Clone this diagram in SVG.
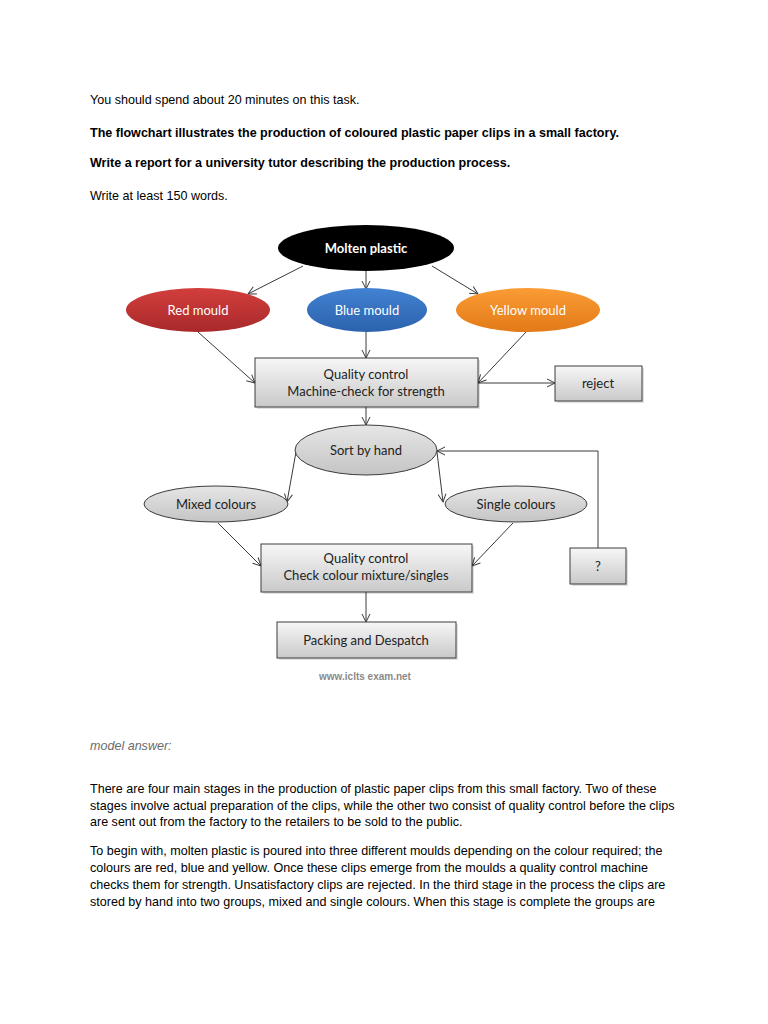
<svg xmlns="http://www.w3.org/2000/svg" width="768" height="1024" viewBox="0 0 768 1024">
<defs>
<linearGradient id="gBox" x1="0" y1="0" x2="0" y2="1"><stop offset="0" stop-color="#f7f7f7"/><stop offset="1" stop-color="#c9c9c9"/></linearGradient>
<linearGradient id="gEll" x1="0" y1="0" x2="0" y2="1"><stop offset="0" stop-color="#e6e6e6"/><stop offset="1" stop-color="#c4c4c4"/></linearGradient>
<linearGradient id="gRed" x1="0" y1="0" x2="0" y2="1"><stop offset="0" stop-color="#d23f3c"/><stop offset="1" stop-color="#a9282b"/></linearGradient>
<linearGradient id="gBlue" x1="0" y1="0" x2="0" y2="1"><stop offset="0" stop-color="#4282d2"/><stop offset="1" stop-color="#2c62ad"/></linearGradient>
<linearGradient id="gYel" x1="0" y1="0" x2="0" y2="1"><stop offset="0" stop-color="#fb9c35"/><stop offset="1" stop-color="#e27a17"/></linearGradient>
<marker id="arr" markerWidth="10" markerHeight="10" refX="9" refY="5" orient="auto" markerUnits="userSpaceOnUse"><path d="M1,1 L9,5 L1,9" fill="none" stroke="#3a3a3a" stroke-width="1"/></marker>
</defs>
<style>
.body{font-family:"Liberation Sans",Arial,sans-serif;font-size:12.55px;fill:#000}
.bold{font-weight:bold}
.ital{font-style:italic;fill:#6b6b6b}
.lbl{font-family:Lato,"Open Sans",sans-serif;font-size:13px;text-anchor:middle;fill:#222}
.wl{fill:#fff}
.box{fill:url(#gBox);stroke:#3c3c3c;stroke-width:1}
.ell{fill:url(#gEll);stroke:#3c3c3c;stroke-width:1}
.sh{fill:#000;opacity:0.12}
.con{fill:none;stroke:#3a3a3a;stroke-width:1;marker-end:url(#arr)}
</style>
<rect width="768" height="1024" fill="#fff"/>

<g id="header">
<text class="body" x="90" y="104">You should spend about 20 minutes on this task.</text>
<text class="body bold" x="90" y="137">The flowchart illustrates the production of coloured plastic paper clips in a small factory.</text>
<text class="body bold" x="90" y="167">Write a report for a university tutor describing the production process.</text>
<text class="body" x="90" y="200">Write at least 150 words.</text>
</g>

<g id="connectors">
<line class="con" x1="303" y1="266" x2="248" y2="294"/>
<line class="con" x1="366" y1="271" x2="366" y2="289"/>
<line class="con" x1="432" y1="266" x2="478" y2="294"/>
<line class="con" x1="198" y1="332" x2="255" y2="383"/>
<line class="con" x1="366" y1="332" x2="366" y2="358"/>
<line class="con" x1="527" y1="331" x2="478" y2="383"/>
<line class="con" x1="478" y1="383" x2="555" y2="383"/>
<line class="con" x1="366" y1="407" x2="366" y2="425"/>
<line class="con" x1="296" y1="452" x2="287" y2="502"/>
<line class="con" x1="437" y1="452" x2="443" y2="502"/>
<line class="con" x1="218" y1="523" x2="261" y2="566"/>
<line class="con" x1="513" y1="523" x2="472" y2="566"/>
<line class="con" x1="366" y1="592" x2="366" y2="622"/>
<polyline class="con" points="598,548 598,451 437,451"/>
</g>

<g id="molten">
<ellipse cx="366" cy="248" rx="88" ry="23" fill="#000"/>
<text class="lbl wl" x="366" y="253" font-weight="bold">Molten plastic</text>
</g>
<g id="red">
<ellipse cx="198" cy="310" rx="72" ry="22" fill="url(#gRed)"/>
<text class="lbl wl" x="198" y="315">Red mould</text>
</g>
<g id="blue">
<ellipse cx="367" cy="310" rx="60" ry="22" fill="url(#gBlue)"/>
<text class="lbl wl" x="367" y="315">Blue mould</text>
</g>
<g id="yellow">
<ellipse cx="528" cy="310" rx="72" ry="22" fill="url(#gYel)"/>
<text class="lbl wl" x="528" y="315">Yellow mould</text>
</g>
<g id="qc1">
<rect class="sh" x="257" y="360" width="223" height="49"/>
<rect class="box" x="255" y="358" width="223" height="49"/>
<text class="lbl" x="366" y="379">Quality control</text>
<text class="lbl" x="366" y="396">Machine-check for strength</text>
</g>
<g id="reject">
<rect class="sh" x="557" y="368" width="87" height="35"/>
<rect class="box" x="555" y="366" width="87" height="35"/>
<text class="lbl" x="598" y="388">reject</text>
</g>
<g id="sort">
<ellipse cx="366" cy="450" rx="71" ry="25" class="ell"/>
<text class="lbl" x="366" y="455">Sort by hand</text>
</g>
<g id="mixed">
<ellipse cx="216" cy="504" rx="72" ry="18" class="ell"/>
<text class="lbl" x="216" y="509">Mixed colours</text>
</g>
<g id="single">
<ellipse cx="516" cy="504" rx="71" ry="18" class="ell"/>
<text class="lbl" x="516" y="509">Single colours</text>
</g>
<g id="qc2">
<rect class="sh" x="263" y="546" width="211" height="48"/>
<rect class="box" x="261" y="544" width="211" height="48"/>
<text class="lbl" x="366" y="563">Quality control</text>
<text class="lbl" x="366" y="580">Check colour mixture/singles</text>
</g>
<g id="unknown">
<rect class="sh" x="572" y="550" width="56" height="36"/>
<rect class="box" x="570" y="548" width="56" height="36"/>
<text class="lbl" x="598" y="571">?</text>
</g>
<g id="packing">
<rect class="sh" x="279" y="624" width="179" height="36"/>
<rect class="box" x="277" y="622" width="179" height="36"/>
<text class="lbl" x="366" y="645">Packing and Despatch</text>
</g>
<text x="365" y="680" font-family="'Liberation Sans',Arial,sans-serif" font-size="10px" font-weight="bold" fill="#8a8a8a" text-anchor="middle">www.iclts exam.net</text>

<g id="answer">
<text class="body ital" x="90" y="750">model answer:</text>
<text class="body" x="90" y="793">There are four main stages in the production of plastic paper clips from this small factory. Two of these</text>
<text class="body" x="90" y="810">stages involve actual preparation of the clips, while the other two consist of quality control before the clips</text>
<text class="body" x="90" y="826">are sent out from the factory to the retailers to be sold to the public.</text>
<text class="body" x="90" y="855">To begin with, molten plastic is poured into three different moulds depending on the colour required; the</text>
<text class="body" x="90" y="872">colours are red, blue and yellow. Once these clips emerge from the moulds a quality control machine</text>
<text class="body" x="90" y="889">checks them for strength. Unsatisfactory clips are rejected. In the third stage in the process the clips are</text>
<text class="body" x="90" y="906">stored by hand into two groups, mixed and single colours. When this stage is complete the groups are</text>
</g>
</svg>
